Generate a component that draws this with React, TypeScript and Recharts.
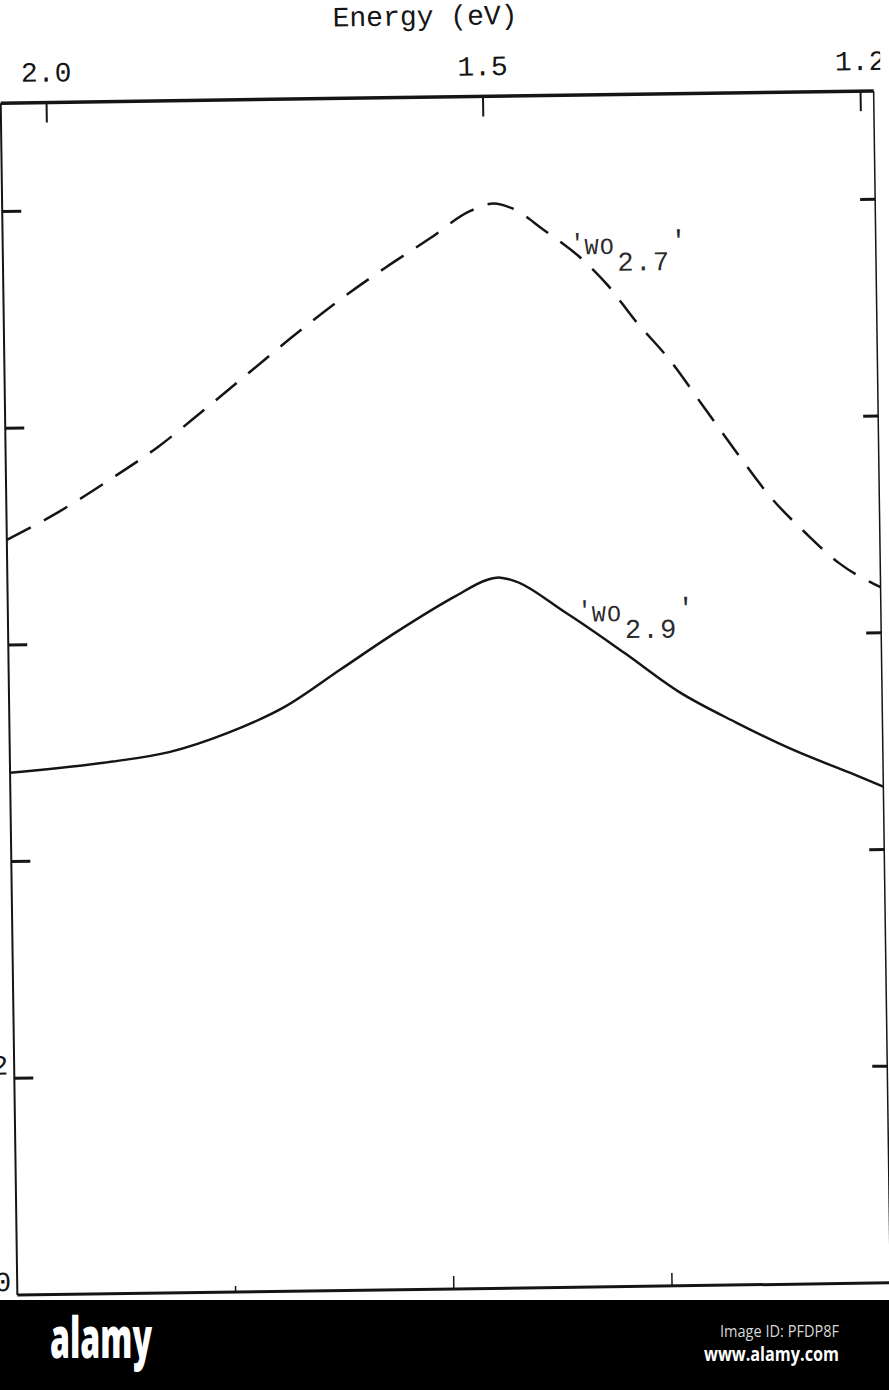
import { LineChart, Line, XAxis, YAxis, ReferenceDot } from 'recharts'

const INK = '#151515'
const MONO = '"Liberation Mono", "DejaVu Sans Mono", monospace'

// x runs in wavelength (nm); the top axis is labelled in energy
const topTickNm = [621, 821, 994]
const topTickLabels = ['2.0', '1.5', '1.2']
const bottomTickNm = [700, 800, 900]
const leftTicks = [0, 2, 4, 6, 8, 10]
// only the lowest two survive the cropped scan
const leftTickLabels = ['0', '2', '', '', '', '']
const rightTicks = [2, 4, 6, 8, 10]

// 'WO2.7' (dashed)
const wo27Nm = [600, 623, 649, 670, 691, 712, 733, 754, 775, 796, 814, 825, 834, 848, 864, 877, 889, 905, 920, 935, 950, 966, 981, 1000]
const wo27Values = [6.97, 7.21, 7.53, 7.81, 8.14, 8.48, 8.82, 9.14, 9.43, 9.7, 9.94, 10.01, 9.96, 9.76, 9.51, 9.24, 8.92, 8.54, 8.11, 7.68, 7.27, 6.93, 6.65, 6.42]

// 'WO2.9' (solid)
const wo29Nm = [600, 647, 673, 700, 726, 752, 778, 805, 820, 825, 830, 856, 882, 907, 933, 959, 985, 1000]
const wo29Values = [4.82, 4.91, 4.99, 5.16, 5.39, 5.73, 6.07, 6.39, 6.54, 6.56, 6.54, 6.22, 5.85, 5.48, 5.19, 4.93, 4.71, 4.58]

const wo27 = wo27Nm.map((nm, i) => ({ nm, v: wo27Values[i] }))
const wo29 = wo29Nm.map((nm, i) => ({ nm, v: wo29Values[i] }))

// the chart svg starts this far left of the page so the cut-off y labels can still show
const BLEED = 40

function TopTick(props: any) {
  const { x, y, payload } = props
  const i = topTickNm.indexOf(payload.value)
  return (
    <g>
      <line x1={x} y1={y} x2={x} y2={y + 20} stroke={INK} strokeWidth={2} />
      <text x={x} y={y - 21} textAnchor="middle" fontFamily={MONO} fontSize={28} fill={INK}>
        {topTickLabels[i]}
      </text>
    </g>
  )
}

function BottomTick(props: any) {
  const { x, y, payload } = props
  const len = payload.value === 700 ? 6 : 13
  return <line x1={x} y1={y} x2={x} y2={y - len} stroke={INK} strokeWidth={1.5} />
}

function LeftTick(props: any) {
  const { x, y, payload } = props
  const label = leftTickLabels[leftTicks.indexOf(payload.value)]
  return (
    <g>
      {payload.value !== 0 && <line x1={x} y1={y} x2={x + 19} y2={y} stroke={INK} strokeWidth={3} />}
      {label && (
        <text x={x - 6} y={y - 4} textAnchor="end" fontFamily={MONO} fontSize={28} fill={INK}>
          {label}
        </text>
      )}
    </g>
  )
}

function RightTick(props: any) {
  const { x, y } = props
  return <line x1={x} y1={y} x2={x - 15} y2={y} stroke={INK} strokeWidth={3} />
}

function CurveLabel(props: any) {
  const { viewBox, sub } = props
  const x = viewBox.x + viewBox.width / 2
  const y = viewBox.y + viewBox.height / 2
  return (
    <text x={x} y={y} fontFamily={MONO} fill="#2a2a2a">
      <tspan fontSize={24} dy={-4}>'</tspan>
      <tspan fontSize={23} dy={4} letterSpacing={1.5}>WO</tspan>
      <tspan fontSize={27} dx={2} dy={17} letterSpacing={1.5}>{sub}</tspan>
      <tspan fontSize={27} dy={-21}>'</tspan>
    </text>
  )
}

function Title(props: any) {
  const { viewBox } = props
  return (
    <text
      x={viewBox.x + viewBox.width / 2 - 11}
      y={viewBox.y + viewBox.height - 72}
      textAnchor="middle"
      fontFamily={MONO}
      fontSize={28}
      fill={INK}
    >
      Energy (eV)
    </text>
  )
}

export default function App() {
  return (
    <div style={{ position: 'absolute', left: 0, top: 0, width: 889, height: 1390, background: '#fff', overflow: 'hidden' }}>
      <div
        style={{
          position: 'absolute',
          left: -BLEED,
          top: 0,
          width: 889 + BLEED,
          height: 1300,
          transform: 'rotate(-0.8deg)',
          transformOrigin: `${445 + BLEED}px 693px`,
        }}
      >
        <LineChart
          width={889 + BLEED}
          height={1300}
          margin={{ top: 96, right: 6, bottom: 10, left: 8 + BLEED }}
        >
          <XAxis
            xAxisId="bottom"
            type="number"
            dataKey="nm"
            domain={[600, 1000]}
            ticks={bottomTickNm}
            interval={0}
            height={1}
            tickSize={0}
            tickMargin={0}
            tickLine={false}
            tick={<BottomTick />}
            axisLine={{ stroke: INK, strokeWidth: 3 }}
            allowDataOverflow
          />
          <XAxis
            xAxisId="top"
            orientation="top"
            type="number"
            dataKey="nm"
            domain={[600, 1000]}
            ticks={topTickNm}
            interval={0}
            height={1}
            tickSize={0}
            tickMargin={0}
            tickLine={false}
            tick={<TopTick />}
            axisLine={{ stroke: INK, strokeWidth: 3.5 }}
            label={<Title />}
            allowDataOverflow
          />
          <YAxis
            yAxisId="left"
            type="number"
            domain={[0, 11]}
            ticks={leftTicks}
            interval={0}
            width={1}
            tickSize={0}
            tickMargin={0}
            tickLine={false}
            tick={<LeftTick />}
            axisLine={{ stroke: INK, strokeWidth: 2 }}
            allowDataOverflow
          />
          <YAxis
            yAxisId="right"
            orientation="right"
            type="number"
            domain={[0, 11]}
            ticks={rightTicks}
            interval={0}
            width={1}
            tickSize={0}
            tickMargin={0}
            tickLine={false}
            tick={<RightTick />}
            axisLine={{ stroke: INK, strokeWidth: 1.5 }}
            allowDataOverflow
          />
          <Line
            xAxisId="bottom"
            yAxisId="left"
            data={wo27}
            dataKey="v"
            type="monotone"
            stroke={INK}
            strokeWidth={2.5}
            strokeDasharray="27 15"
            dot={false}
            isAnimationActive={false}
          />
          <Line
            xAxisId="bottom"
            yAxisId="left"
            data={wo29}
            dataKey="v"
            type="monotone"
            stroke={INK}
            strokeWidth={2.5}
            dot={false}
            isAnimationActive={false}
          />
          <ReferenceDot
            xAxisId="bottom"
            yAxisId="left"
            x={860}
            y={9.53}
            r={1}
            fill="none"
            stroke="none"
            label={<CurveLabel sub="2.7" />}
          />
          <ReferenceDot
            xAxisId="bottom"
            yAxisId="left"
            x={861}
            y={6.14}
            r={1}
            fill="none"
            stroke="none"
            label={<CurveLabel sub="2.9" />}
          />
        </LineChart>
      </div>
      <svg
        width={889}
        height={90}
        style={{ position: 'absolute', left: 0, top: 1300, background: '#000', display: 'block' }}
      >
        <text
          x={50}
          y={58}
          fontFamily='"Open Sans", sans-serif'
          fontWeight={800}
          fontSize={56}
          fill="#fff"
          textLength={102}
          lengthAdjust="spacingAndGlyphs"
        >
          alamy
        </text>
        <text
          x={839}
          y={37}
          textAnchor="end"
          fontFamily='"Open Sans", sans-serif'
          fontSize={16}
          fill="#d8d8d8"
          textLength={119}
          lengthAdjust="spacingAndGlyphs"
        >
          Image ID: PFDP8F
        </text>
        <text
          x={839}
          y={61}
          textAnchor="end"
          fontFamily='"Open Sans", sans-serif'
          fontWeight={700}
          fontSize={19}
          fill="#fff"
          textLength={135}
          lengthAdjust="spacingAndGlyphs"
        >
          www.alamy.com
        </text>
      </svg>
    </div>
  )
}
